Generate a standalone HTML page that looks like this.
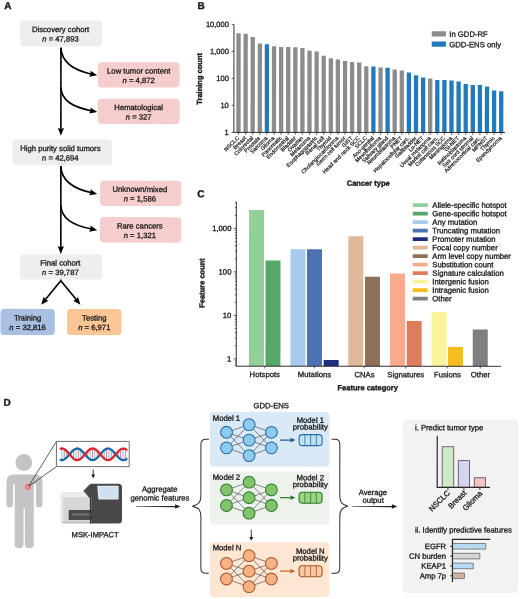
<!DOCTYPE html>
<html lang="en"><head><meta charset="utf-8"><title>Figure 1</title>
<style>
html,body{margin:0;padding:0;background:#fff;}
body{width:520px;height:599px;overflow:hidden;}
svg{display:block;font-family:"Liberation Sans",Arial,sans-serif;fill:#1a1718;text-rendering:geometricPrecision;}
text{stroke:#1a1718;stroke-width:0.3px;}
.pl{font-size:10px;font-weight:bold;stroke-width:0.35px;}
.t{font-size:7.7px;}
.b{font-size:7.5px;font-weight:bold;stroke-width:0.35px;}
.xs{font-size:5.5px;stroke-width:0.2px;}
.m{text-anchor:middle;}
.e{text-anchor:end;}
</style></head><body>
<svg width="520" height="599" viewBox="0 0 520 599">
<rect width="520" height="599" fill="#fff"/>
<g transform="rotate(0.03 260 300)">

<g id="panelA">
<text class="pl" x="4.2" y="9.1">A</text>
<rect x="20" y="20.5" width="82.00" height="26.20" rx="3.8" fill="#eeeeee"/>
<text class="t m" x="60.40" y="32.20">Discovery cohort</text>
<text class="t m" x="60.40" y="41.70"><tspan font-style="italic">n</tspan> = 47,893</text>
<rect x="97.7" y="62.3" width="81.80" height="25.30" rx="3.8" fill="#f6cdcd"/>
<text class="t m" x="138.60" y="73.55">Low tumor content</text>
<text class="t m" x="138.60" y="83.05"><tspan font-style="italic">n</tspan> = 4,872</text>
<rect x="97.7" y="98.8" width="81.80" height="25.40" rx="3.8" fill="#f6cdcd"/>
<text class="t m" x="138.60" y="110.10">Hematological</text>
<text class="t m" x="138.60" y="119.60"><tspan font-style="italic">n</tspan> = 327</text>
<rect x="12.5" y="139.5" width="99.30" height="25.80" rx="3.8" fill="#eeeeee"/>
<text class="t m" x="60.30" y="151.00">High purity solid tumors</text>
<text class="t m" x="60.30" y="160.50"><tspan font-style="italic">n</tspan> = 42,694</text>
<rect x="100" y="180.7" width="81.30" height="25.30" rx="3.8" fill="#f6cdcd"/>
<text class="t m" x="139.80" y="191.95">Unknown/mixed</text>
<text class="t m" x="139.80" y="201.45"><tspan font-style="italic">n</tspan> = 1,586</text>
<rect x="100" y="217.2" width="81.30" height="25.50" rx="3.8" fill="#f6cdcd"/>
<text class="t m" x="139.80" y="228.55">Rare cancers</text>
<text class="t m" x="139.80" y="238.05"><tspan font-style="italic">n</tspan> = 1,321</text>
<rect x="20" y="254.4" width="82.00" height="25.20" rx="3.8" fill="#eeeeee"/>
<text class="t m" x="60.40" y="265.60">Final cohort</text>
<text class="t m" x="60.40" y="275.10"><tspan font-style="italic">n</tspan> = 39,787</text>
<rect x="0.5" y="309" width="54.30" height="26.20" rx="3.8" fill="#aac0e3"/>
<text class="t m" x="27.65" y="320.70">Training</text>
<text class="t m" x="27.65" y="330.20"><tspan font-style="italic">n</tspan> = 32,816</text>
<rect x="67" y="309" width="54.60" height="26.20" rx="3.8" fill="#fbc695"/>
<text class="t m" x="94.30" y="320.70">Testing</text>
<text class="t m" x="94.30" y="330.20"><tspan font-style="italic">n</tspan> = 6,971</text>
<path d="M60.8 47.5V130.8" stroke="#000" stroke-width="1.6" fill="none"/>
<path d="M60.80 135.80L63.90 128.20L60.80 129.00L57.70 128.20Z" fill="#000"/>
<path d="M60.8 166V249" stroke="#000" stroke-width="1.6" fill="none"/>
<path d="M60.80 254.00L63.90 246.40L60.80 247.20L57.70 246.40Z" fill="#000"/>
<path d="M60.8 48C61.4 61,71.8 70.06,91.82 74.26" stroke="#000" stroke-width="1.6" fill="none"/>
<path d="M97.20 75.40L90.41 70.79L90.55 73.99L89.12 76.85Z" fill="#000"/>
<path d="M60.8 87.5C61.4 100.5,71.8 106.86,91.82 111.06" stroke="#000" stroke-width="1.6" fill="none"/>
<path d="M97.20 112.20L90.41 107.59L90.55 110.79L89.12 113.65Z" fill="#000"/>
<path d="M60.8 166.5C61.4 179.5,71.8 188.66,91.82 192.86" stroke="#000" stroke-width="1.6" fill="none"/>
<path d="M97.20 194.00L90.41 189.39L90.55 192.59L89.12 195.45Z" fill="#000"/>
<path d="M60.8 205.5C61.4 218.5,71.8 224.96,91.82 229.16" stroke="#000" stroke-width="1.6" fill="none"/>
<path d="M97.20 230.30L90.41 225.69L90.55 228.89L89.12 231.75Z" fill="#000"/>
<path d="M60.0 280.2h1.6" stroke="#000" stroke-width="1.2"/>
<path d="M60.8 280.8L44.36 300.93" stroke="#000" stroke-width="1.6" fill="none"/>
<path d="M41.20 304.80L48.41 300.87L45.50 299.53L43.61 296.95Z" fill="#000"/>
<path d="M60.8 280.8L77.24 300.93" stroke="#000" stroke-width="1.6" fill="none"/>
<path d="M80.40 304.80L77.99 296.95L76.10 299.53L73.19 300.87Z" fill="#000"/>
</g>
<g id="panelB">
<text class="pl" x="197.3" y="9.1">B</text>
<rect x="236.25" y="33.25" width="4.3" height="99.15" fill="#8c8c8c"/>
<rect x="243.35" y="33.75" width="4.3" height="98.65" fill="#8c8c8c"/>
<rect x="250.45" y="37" width="4.3" height="95.40" fill="#8c8c8c"/>
<rect x="257.55" y="43.5" width="4.3" height="88.90" fill="#8c8c8c"/>
<rect x="264.65" y="44.25" width="4.3" height="88.15" fill="#2279bb"/>
<rect x="271.75" y="46.25" width="4.3" height="86.15" fill="#8c8c8c"/>
<rect x="278.85" y="47" width="4.3" height="85.40" fill="#8c8c8c"/>
<rect x="285.95" y="47" width="4.3" height="85.40" fill="#8c8c8c"/>
<rect x="293.05" y="47.2" width="4.3" height="85.20" fill="#8c8c8c"/>
<rect x="300.15" y="48.1" width="4.3" height="84.30" fill="#8c8c8c"/>
<rect x="307.25" y="50.6" width="4.3" height="81.80" fill="#8c8c8c"/>
<rect x="314.35" y="51.4" width="4.3" height="81.00" fill="#8c8c8c"/>
<rect x="321.45" y="55.75" width="4.3" height="76.65" fill="#8c8c8c"/>
<rect x="328.55" y="58.25" width="4.3" height="74.15" fill="#8c8c8c"/>
<rect x="335.65" y="59.5" width="4.3" height="72.90" fill="#8c8c8c"/>
<rect x="342.75" y="61" width="4.3" height="71.40" fill="#8c8c8c"/>
<rect x="349.85" y="62" width="4.3" height="70.40" fill="#8c8c8c"/>
<rect x="356.95" y="62.5" width="4.3" height="69.90" fill="#8c8c8c"/>
<rect x="364.05" y="66.25" width="4.3" height="66.15" fill="#8c8c8c"/>
<rect x="371.15" y="66.5" width="4.3" height="65.90" fill="#2279bb"/>
<rect x="378.25" y="67.5" width="4.3" height="64.90" fill="#8c8c8c"/>
<rect x="385.35" y="67.75" width="4.3" height="64.65" fill="#2279bb"/>
<rect x="392.45" y="69.5" width="4.3" height="62.90" fill="#8c8c8c"/>
<rect x="399.55" y="70.5" width="4.3" height="61.90" fill="#8c8c8c"/>
<rect x="406.65" y="72.3" width="4.3" height="60.10" fill="#2279bb"/>
<rect x="413.75" y="75.2" width="4.3" height="57.20" fill="#2279bb"/>
<rect x="420.85" y="77.4" width="4.3" height="55.00" fill="#2279bb"/>
<rect x="427.95" y="78.5" width="4.3" height="53.90" fill="#8c8c8c"/>
<rect x="435.05" y="80" width="4.3" height="52.40" fill="#2279bb"/>
<rect x="442.15" y="80" width="4.3" height="52.40" fill="#2279bb"/>
<rect x="449.25" y="80.5" width="4.3" height="51.90" fill="#2279bb"/>
<rect x="456.35" y="81.4" width="4.3" height="51.00" fill="#2279bb"/>
<rect x="463.45" y="83.9" width="4.3" height="48.50" fill="#2279bb"/>
<rect x="470.55" y="84.9" width="4.3" height="47.50" fill="#2279bb"/>
<rect x="477.65" y="84.9" width="4.3" height="47.50" fill="#2279bb"/>
<rect x="484.75" y="86.5" width="4.3" height="45.90" fill="#2279bb"/>
<rect x="491.85" y="90.4" width="4.3" height="42.00" fill="#2279bb"/>
<rect x="498.95" y="91.1" width="4.3" height="41.30" fill="#2279bb"/>
<path d="M233.8 24.5V132.4H505" stroke="#2a2627" stroke-width="0.95" fill="none"/>
<path d="M231.60000000000002 132.40H233.8M231.60000000000002 105.40H233.8M231.60000000000002 78.40H233.8M231.60000000000002 51.40H233.8M231.60000000000002 24.40H233.8M238.40 132.4v2.3M245.50 132.4v2.3M252.60 132.4v2.3M259.70 132.4v2.3M266.80 132.4v2.3M273.90 132.4v2.3M281.00 132.4v2.3M288.10 132.4v2.3M295.20 132.4v2.3M302.30 132.4v2.3M309.40 132.4v2.3M316.50 132.4v2.3M323.60 132.4v2.3M330.70 132.4v2.3M337.80 132.4v2.3M344.90 132.4v2.3M352.00 132.4v2.3M359.10 132.4v2.3M366.20 132.4v2.3M373.30 132.4v2.3M380.40 132.4v2.3M387.50 132.4v2.3M394.60 132.4v2.3M401.70 132.4v2.3M408.80 132.4v2.3M415.90 132.4v2.3M423.00 132.4v2.3M430.10 132.4v2.3M437.20 132.4v2.3M444.30 132.4v2.3M451.40 132.4v2.3M458.50 132.4v2.3M465.60 132.4v2.3M472.70 132.4v2.3M479.80 132.4v2.3M486.90 132.4v2.3M494.00 132.4v2.3M501.10 132.4v2.3" stroke="#2a2627" stroke-width="0.75" fill="none"/>
<text class="t e" x="228.7" y="135.10" style="font-size:7.5px">1</text>
<text class="t e" x="228.7" y="108.10" style="font-size:7.5px">10</text>
<text class="t e" x="228.7" y="81.10" style="font-size:7.5px">100</text>
<text class="t e" x="228.7" y="54.10" style="font-size:7.5px">1,000</text>
<text class="t e" x="228.7" y="27.10" style="font-size:7.5px">10,000</text>
<text class="xs e" transform="translate(239.40 138.5) rotate(-45)">NSCLC</text>
<text class="xs e" transform="translate(246.50 138.5) rotate(-45)">Breast</text>
<text class="xs e" transform="translate(253.60 138.5) rotate(-45)">Colorectal</text>
<text class="xs e" transform="translate(260.70 138.5) rotate(-45)">Prostate</text>
<text class="xs e" transform="translate(267.80 138.5) rotate(-45)">Sarcoma</text>
<text class="xs e" transform="translate(274.90 138.5) rotate(-45)">Glioma</text>
<text class="xs e" transform="translate(282.00 138.5) rotate(-45)">Pancreatic</text>
<text class="xs e" transform="translate(289.10 138.5) rotate(-45)">Endometrial</text>
<text class="xs e" transform="translate(296.20 138.5) rotate(-45)">Bladder</text>
<text class="xs e" transform="translate(303.30 138.5) rotate(-45)">Ovarian</text>
<text class="xs e" transform="translate(310.40 138.5) rotate(-45)">Melanoma</text>
<text class="xs e" transform="translate(317.50 138.5) rotate(-45)">Esophagogastric</text>
<text class="xs e" transform="translate(324.60 138.5) rotate(-45)">Renal cell</text>
<text class="xs e" transform="translate(331.70 138.5) rotate(-45)">Thyroid</text>
<text class="xs e" transform="translate(338.80 138.5) rotate(-45)">Cholangiocarcinoma</text>
<text class="xs e" transform="translate(345.90 138.5) rotate(-45)">Germ cell tumor</text>
<text class="xs e" transform="translate(353.00 138.5) rotate(-45)">GIST</text>
<text class="xs e" transform="translate(360.10 138.5) rotate(-45)">Head and neck SCC</text>
<text class="xs e" transform="translate(367.20 138.5) rotate(-45)">SCLC</text>
<text class="xs e" transform="translate(374.30 138.5) rotate(-45)">Ano-genital</text>
<text class="xs e" transform="translate(381.40 138.5) rotate(-45)">Mesothelioma</text>
<text class="xs e" transform="translate(388.50 138.5) rotate(-45)">Salivary gland</text>
<text class="xs e" transform="translate(395.60 138.5) rotate(-45)">Neuroblastoma</text>
<text class="xs e" transform="translate(402.70 138.5) rotate(-45)">PNET</text>
<text class="xs e" transform="translate(409.80 138.5) rotate(-45)">Hepatocellular carc.</text>
<text class="xs e" transform="translate(416.90 138.5) rotate(-45)">Gallbladder</text>
<text class="xs e" transform="translate(424.00 138.5) rotate(-45)">Lu-NET</text>
<text class="xs e" transform="translate(431.10 138.5) rotate(-45)">Uveal melanoma</text>
<text class="xs e" transform="translate(438.20 138.5) rotate(-45)">Merkel cell carc.</text>
<text class="xs e" transform="translate(445.30 138.5) rotate(-45)">Cutaneous SCC</text>
<text class="xs e" transform="translate(452.40 138.5) rotate(-45)">Meningioma</text>
<text class="xs e" transform="translate(459.50 138.5) rotate(-45)">GI-NET</text>
<text class="xs e" transform="translate(466.60 138.5) rotate(-45)">Retinoblastoma</text>
<text class="xs e" transform="translate(473.70 138.5) rotate(-45)">Sex cord stromal</text>
<text class="xs e" transform="translate(480.80 138.5) rotate(-45)">Adrenocortical carc.</text>
<text class="xs e" transform="translate(487.90 138.5) rotate(-45)">MPNST</text>
<text class="xs e" transform="translate(495.00 138.5) rotate(-45)">Thymic</text>
<text class="xs e" transform="translate(502.10 138.5) rotate(-45)">Ependymoma</text>
<text class="b m" transform="translate(201.8 78.9) rotate(-90)">Training count</text>
<text class="b m" x="368.2" y="185.6">Cancer type</text>
<rect x="431.6" y="31.1" width="14.2" height="5.4" fill="#8c8c8c"/>
<rect x="431.6" y="41.3" width="14.2" height="5.4" fill="#2279bb"/>
<text class="t" x="449.2" y="36.7">In GDD-RF</text>
<text class="t" x="449.2" y="47.2">GDD-ENS only</text>
</g>
<g id="panelC">
<text class="pl" x="197.3" y="197.2">C</text>
<rect x="249" y="210" width="15.00" height="156.20" fill="#93d098"/>
<rect x="265.5" y="260.5" width="15.00" height="105.70" fill="#55a868"/>
<rect x="290.5" y="249.3" width="15.00" height="116.90" fill="#a9c9ed"/>
<rect x="307" y="249.3" width="15.00" height="116.90" fill="#4c72b5"/>
<rect x="323.7" y="359.9" width="15.00" height="6.30" fill="#1f2d7d"/>
<rect x="348.3" y="236.3" width="15.00" height="129.90" fill="#dfb999"/>
<rect x="365" y="276.8" width="15.00" height="89.40" fill="#8c7058"/>
<rect x="390" y="273.5" width="15.00" height="92.70" fill="#f8ab8c"/>
<rect x="406.7" y="320.8" width="15.00" height="45.40" fill="#e07c5b"/>
<rect x="431.6" y="311.8" width="15.00" height="54.40" fill="#fbf39c"/>
<rect x="448" y="347" width="15.00" height="19.20" fill="#f5be1c"/>
<rect x="472.8" y="329.4" width="15.00" height="36.80" fill="#7f7f7f"/>
<path d="M236.3 202V366.2H501" stroke="#2a2627" stroke-width="0.95" fill="none"/>
<path d="M234.9 365.64H236.3M234.9 363.12H236.3M234.9 360.89H236.3M233.70000000000002 358.90H236.3M234.9 345.81H236.3M234.9 338.15H236.3M234.9 332.71H236.3M234.9 328.49H236.3M234.9 325.05H236.3M234.9 322.14H236.3M234.9 319.62H236.3M234.9 317.39H236.3M233.70000000000002 315.40H236.3M234.9 302.31H236.3M234.9 294.65H236.3M234.9 289.21H236.3M234.9 284.99H236.3M234.9 281.55H236.3M234.9 278.64H236.3M234.9 276.12H236.3M234.9 273.89H236.3M233.70000000000002 271.90H236.3M234.9 258.81H236.3M234.9 251.15H236.3M234.9 245.71H236.3M234.9 241.49H236.3M234.9 238.05H236.3M234.9 235.14H236.3M234.9 232.62H236.3M234.9 230.39H236.3M233.70000000000002 228.40H236.3M234.9 215.31H236.3M234.9 207.65H236.3M234.9 202.21H236.3M264.8 366.2v2.2M314.5 366.2v2.2M364.2 366.2v2.2M405.8 366.2v2.2M447.3 366.2v2.2M480.3 366.2v2.2" stroke="#2a2627" stroke-width="0.75" fill="none"/>
<text class="t e" x="231.4" y="361.60">1</text>
<text class="t e" x="231.4" y="318.10">10</text>
<text class="t e" x="231.4" y="274.60">100</text>
<text class="t e" x="231.4" y="231.10">1,000</text>
<text class="t m" x="264.8" y="377.1">Hotspots</text>
<text class="t m" x="314.5" y="377.1">Mutations</text>
<text class="t m" x="364.6" y="377.1">CNAs</text>
<text class="t m" x="405.8" y="377.1">Signatures</text>
<text class="t m" x="447.5" y="377.1">Fusions</text>
<text class="t m" x="480.5" y="377.1">Other</text>
<text class="b m" transform="translate(204.5 283) rotate(-90)">Feature count</text>
<text class="b m" x="367.8" y="390.3">Feature category</text>
<rect x="412.7" y="203.10" width="15" height="3.8" fill="#93d098"/>
<text class="t" x="432.3" y="207.70">Allele-specific hotspot</text>
<rect x="412.7" y="211.60" width="15" height="3.8" fill="#55a868"/>
<text class="t" x="432.3" y="216.20">Gene-specific hotspot</text>
<rect x="412.7" y="220.10" width="15" height="3.8" fill="#a9c9ed"/>
<text class="t" x="432.3" y="224.70">Any mutation</text>
<rect x="412.7" y="228.60" width="15" height="3.8" fill="#4c72b5"/>
<text class="t" x="432.3" y="233.20">Truncating mutation</text>
<rect x="412.7" y="237.10" width="15" height="3.8" fill="#1f2d7d"/>
<text class="t" x="432.3" y="241.70">Promoter mutation</text>
<rect x="412.7" y="245.60" width="15" height="3.8" fill="#dfb999"/>
<text class="t" x="432.3" y="250.20">Focal copy number</text>
<rect x="412.7" y="254.10" width="15" height="3.8" fill="#8c7058"/>
<text class="t" x="432.3" y="258.70">Arm level copy number</text>
<rect x="412.7" y="262.60" width="15" height="3.8" fill="#f8ab8c"/>
<text class="t" x="432.3" y="267.20">Substitution count</text>
<rect x="412.7" y="271.10" width="15" height="3.8" fill="#e07c5b"/>
<text class="t" x="432.3" y="275.70">Signature calculation</text>
<rect x="412.7" y="279.60" width="15" height="3.8" fill="#fbf39c"/>
<text class="t" x="432.3" y="284.20">Intergenic fusion</text>
<rect x="412.7" y="288.10" width="15" height="3.8" fill="#f5be1c"/>
<text class="t" x="432.3" y="292.70">Intragenic fusion</text>
<rect x="412.7" y="296.60" width="15" height="3.8" fill="#7f7f7f"/>
<text class="t" x="432.3" y="301.20">Other</text>
</g>
<g id="panelD">
<text class="pl" x="3.6" y="405.9">D</text>
<circle cx="23.9" cy="462.6" r="8.4" fill="#c4c4c4"/>
<path d="M13.6 474.6H35.6Q42.6 474.6 42.6 481.6V504.3Q42.6 507.6 39.35 507.6Q36.1 507.6 36.1 504.3V484.3H33.9V544.4Q33.9 548.3 29.4 548.3Q25 548.3 25 544.4V508.5H23.7V544.4Q23.7 548.3 19.2 548.3Q14.8 548.3 14.8 544.4V484.3H13.1V504.3Q13.1 507.6 9.85 507.6Q6.6 507.6 6.6 504.3V481.6Q6.6 474.6 13.6 474.6Z" fill="#c4c4c4"/>
<circle cx="28" cy="487" r="3.7" fill="#eeb0b5"/>
<circle cx="28" cy="487" r="2.5" fill="#ee9ca4" stroke="#db5966" stroke-width="0.9"/>
<path d="M56.5 441.5L28.6 486.6L56.5 466.7" stroke="#333" stroke-width="0.8" fill="none" stroke-linejoin="round"/>
<rect x="56.5" y="441.5" width="72.8" height="25.2" fill="#fff" stroke="#4a4a4a" stroke-width="0.8"/>
<path d="M62.00 449.20V459.60M66.70 451.77V457.03M71.40 452.92V455.88M76.10 449.37V459.43M80.80 450.62V458.18M90.20 449.94V458.86M94.90 449.77V459.03M104.30 450.86V457.94M109.00 449.30V459.50M113.70 452.59V456.21M118.40 452.07V456.73M123.10 449.22V459.58" stroke="#7dc0e6" stroke-width="1" fill="none"/>
<path d="M64.35 449.91V458.89M73.75 450.66V458.14M78.45 449.36V459.44M83.15 452.86V455.94M87.85 451.81V456.99M92.55 449.20V459.60M97.25 451.52V457.28M101.95 453.20V455.60M106.65 449.45V459.35M111.35 450.43V458.37M120.75 450.09V458.71M125.45 449.65V459.15" stroke="#ea7f82" stroke-width="1" fill="none"/>
<path d="M60.80 460.05L61.13 460.13L61.46 460.18L61.79 460.20L62.12 460.19L62.45 460.16L62.77 460.11L63.10 460.03L63.43 459.92L63.76 459.79L64.09 459.63L64.42 459.45L64.75 459.25L65.08 459.02L65.41 458.78L65.73 458.51L66.06 458.23L66.39 457.93L66.72 457.61L67.05 457.28L67.38 456.94L67.71 456.58L68.04 456.22L68.37 455.84L68.70 455.46L69.02 455.08L69.35 454.69L69.68 454.30L70.01 453.91L70.34 453.53L70.67 453.14L71.00 452.77L71.33 452.40L71.66 452.04L71.99 451.69L72.31 451.35L72.64 451.03L72.97 450.72L73.30 450.42L73.63 450.15L73.96 449.90L74.29 449.66L74.62 449.45L74.95 449.26L75.28 449.09L75.60 448.94L75.93 448.82L76.26 448.73L76.59 448.66L76.92 448.62L77.25 448.60L77.58 448.61L77.91 448.64L78.24 448.71L78.57 448.79L78.89 448.90L79.22 449.04L79.55 449.20L79.88 449.39L80.21 449.59L80.54 449.82L80.87 450.07L81.20 450.34L81.53 450.63L81.86 450.93L82.19 451.25L82.51 451.58L82.84 451.93L83.17 452.29L83.50 452.65L83.83 453.03L84.16 453.41L84.49 453.80L84.82 454.18L85.15 454.57L85.47 454.96L85.80 455.35L86.13 455.73L86.46 456.10L86.79 456.47L87.12 456.83L87.45 457.18L87.78 457.51L88.11 457.83L88.44 458.14L88.77 458.43L89.09 458.70L89.42 458.95L89.75 459.18L90.08 459.39L90.41 459.58L90.74 459.74L91.07 459.88L91.40 460.00L91.73 460.09L92.05 460.15L92.38 460.19L92.71 460.20L93.04 460.19L93.37 460.15L93.70 460.08L94.03 459.99L94.36 459.87L94.69 459.73L95.02 459.56L95.34 459.38L95.67 459.16L96.00 458.93L96.33 458.68L96.66 458.41L96.99 458.12L97.32 457.81L97.65 457.49L97.98 457.15L98.31 456.80L98.63 456.44L98.96 456.07L99.29 455.70L99.62 455.32L99.95 454.93L100.28 454.54L100.61 454.15L100.94 453.76L101.27 453.38L101.60 453.00L101.92 452.62L102.25 452.26L102.58 451.90L102.91 451.56L103.24 451.22L103.57 450.91L103.90 450.60L104.23 450.32L104.56 450.05L104.89 449.80L105.22 449.58L105.54 449.37L105.87 449.19L106.20 449.03L106.53 448.89L106.86 448.78L107.19 448.70L107.52 448.64L107.85 448.61L108.18 448.60L108.50 448.62L108.83 448.66L109.16 448.74L109.49 448.83L109.82 448.95L110.15 449.10L110.48 449.27L110.81 449.46L111.14 449.68L111.47 449.91L111.79 450.17L112.12 450.45L112.45 450.74L112.78 451.05L113.11 451.38L113.44 451.71L113.77 452.07L114.10 452.43L114.43 452.80L114.76 453.17L115.08 453.56L115.41 453.94L115.74 454.33L116.07 454.72L116.40 455.11L116.73 455.49L117.06 455.87L117.39 456.25L117.72 456.61L118.05 456.97L118.38 457.31L118.70 457.64L119.03 457.95L119.36 458.25L119.69 458.54L120.02 458.80L120.35 459.04L120.68 459.27L121.01 459.47L121.34 459.64L121.66 459.80L121.99 459.93L122.32 460.03L122.65 460.11L122.98 460.17L123.31 460.20L123.64 460.20L123.97 460.17L124.30 460.12L124.63 460.05L124.95 459.95L125.28 459.82L125.61 459.67L125.94 459.50L126.27 459.30L126.60 459.08" stroke="#1c66ab" stroke-width="2.3" fill="none" stroke-linecap="round"/>
<path d="M60.80 448.75L61.13 448.67L61.46 448.62L61.79 448.60L62.12 448.61L62.45 448.64L62.77 448.69L63.10 448.77L63.43 448.88L63.76 449.01L64.09 449.17L64.42 449.35L64.75 449.55L65.08 449.78L65.41 450.02L65.73 450.29L66.06 450.57L66.39 450.87L66.72 451.19L67.05 451.52L67.38 451.86L67.71 452.22L68.04 452.58L68.37 452.96L68.70 453.34L69.02 453.72L69.35 454.11L69.68 454.50L70.01 454.89L70.34 455.27L70.67 455.66L71.00 456.03L71.33 456.40L71.66 456.76L71.99 457.11L72.31 457.45L72.64 457.77L72.97 458.08L73.30 458.38L73.63 458.65L73.96 458.90L74.29 459.14L74.62 459.35L74.95 459.54L75.28 459.71L75.60 459.86L75.93 459.98L76.26 460.07L76.59 460.14L76.92 460.18L77.25 460.20L77.58 460.19L77.91 460.16L78.24 460.09L78.57 460.01L78.89 459.90L79.22 459.76L79.55 459.60L79.88 459.41L80.21 459.21L80.54 458.98L80.87 458.73L81.20 458.46L81.53 458.17L81.86 457.87L82.19 457.55L82.51 457.22L82.84 456.87L83.17 456.51L83.50 456.15L83.83 455.77L84.16 455.39L84.49 455.00L84.82 454.62L85.15 454.23L85.47 453.84L85.80 453.45L86.13 453.07L86.46 452.70L86.79 452.33L87.12 451.97L87.45 451.62L87.78 451.29L88.11 450.97L88.44 450.66L88.77 450.37L89.09 450.10L89.42 449.85L89.75 449.62L90.08 449.41L90.41 449.22L90.74 449.06L91.07 448.92L91.40 448.80L91.73 448.71L92.05 448.65L92.38 448.61L92.71 448.60L93.04 448.61L93.37 448.65L93.70 448.72L94.03 448.81L94.36 448.93L94.69 449.07L95.02 449.24L95.34 449.42L95.67 449.64L96.00 449.87L96.33 450.12L96.66 450.39L96.99 450.68L97.32 450.99L97.65 451.31L97.98 451.65L98.31 452.00L98.63 452.36L98.96 452.73L99.29 453.10L99.62 453.48L99.95 453.87L100.28 454.26L100.61 454.65L100.94 455.04L101.27 455.42L101.60 455.80L101.92 456.18L102.25 456.54L102.58 456.90L102.91 457.24L103.24 457.58L103.57 457.89L103.90 458.20L104.23 458.48L104.56 458.75L104.89 459.00L105.22 459.22L105.54 459.43L105.87 459.61L106.20 459.77L106.53 459.91L106.86 460.02L107.19 460.10L107.52 460.16L107.85 460.19L108.18 460.20L108.50 460.18L108.83 460.14L109.16 460.06L109.49 459.97L109.82 459.85L110.15 459.70L110.48 459.53L110.81 459.34L111.14 459.12L111.47 458.89L111.79 458.63L112.12 458.35L112.45 458.06L112.78 457.75L113.11 457.42L113.44 457.09L113.77 456.73L114.10 456.37L114.43 456.00L114.76 455.63L115.08 455.24L115.41 454.86L115.74 454.47L116.07 454.08L116.40 453.69L116.73 453.31L117.06 452.93L117.39 452.55L117.72 452.19L118.05 451.83L118.38 451.49L118.70 451.16L119.03 450.85L119.36 450.55L119.69 450.26L120.02 450.00L120.35 449.76L120.68 449.53L121.01 449.33L121.34 449.16L121.66 449.00L121.99 448.87L122.32 448.77L122.65 448.69L122.98 448.63L123.31 448.60L123.64 448.60L123.97 448.63L124.30 448.68L124.63 448.75L124.95 448.85L125.28 448.98L125.61 449.13L125.94 449.30L126.27 449.50L126.60 449.72" stroke="#d8232c" stroke-width="2.3" fill="none" stroke-linecap="round"/>
<path d="M93.3 469.4V475.09999999999997" stroke="#231f20" stroke-width="0.9" fill="none"/>
<path d="M93.3 478.4L91.3 474.59999999999997L95.3 474.59999999999997Z" fill="#231f20"/>
<path d="M61 496Q61 492.4 64.6 492.4H93V523.2H63.6Q61 523.2 61 520.4Z" fill="#d6d6d6"/>
<path d="M61.6 494.6Q62.4 492.4 64.6 492.4H92.5L89 497.4H62Z" fill="#ececec"/>
<path d="M61 497.4H63.4V522.8Q61 522.4 61 520.4Z" fill="#e8e8e8"/>
<path d="M61.5 522.2H93V523.6H63.5Q62 523.4 61.5 522.2Z" fill="#bdbdbd"/>
<path d="M68.8 510.2H93V520H68.8Z" fill="#4a4a4c"/>
<path d="M72 513.4H93V515.8H72Z" fill="#6a6a6c"/>
<path d="M91.2 483.8H118.4Q122.1 483.8 122.1 487.4V520Q122.1 523.6 118.4 523.6H91.6V497.4L83.4 491L88.6 485.6Q90 483.8 91.2 483.8Z" fill="#48484a"/>
<path d="M83.4 491L91.6 497.4V523.6H90V498.4Z" fill="#38383a"/>
<path d="M97.3 485.9H118.2Q118.7 485.9 118.7 486.5V498.8Q118.7 499.5 118 499.5H98.6Z" fill="#e9eff3"/>
<path d="M98.5 486.9H117.7V498.5H99.5Z" fill="#cfe1ee"/>
<text class="t m" x="95.3" y="537.4" style="font-size:7.6px">MSK-IMPACT</text>
<text class="t m" x="159.8" y="491.7">Aggregate</text>
<text class="t m" x="160" y="500.5">genomic features</text>
<path d="M136 506.35L176 505.95V507.25L136 506.85Z" fill="#231f20"/>
<path d="M180.6 506.6L175.2 504.3V508.9Z" fill="#231f20"/>
<path d="M209 439.2H206Q201 439.2 201 444.2V495.20000000000005C201 501.70000000000005,199.5 504.6,192.4 506.20000000000005C199.5 507.80000000000007,201 510.70000000000005,201 517.2V568.2Q201 573.2 206 573.2H209" stroke="#2f2b2c" stroke-width="1" fill="none"/>
<path d="M331.6 439.2H334.9Q339.9 439.2 339.9 444.2V495.20000000000005C339.9 501.70000000000005,341.4 504.6,348 506.20000000000005C341.4 507.80000000000007,339.9 510.70000000000005,339.9 517.2V568.2Q339.9 573.2 334.9 573.2H331.6" stroke="#2f2b2c" stroke-width="1" fill="none"/>
<text class="t m" x="271.3" y="408.3">GDD-ENS</text>
<rect x="210.1" y="411.9" width="119.4" height="54.70" rx="3.5" fill="#d9eaf6"/>
<text class="t" x="212.8" y="420.8">Model 1</text>
<path d="M226.6 432.30L249.2 424.60M226.6 432.30L249.2 440.10M226.6 432.30L249.2 455.60M226.6 447.90L249.2 424.60M226.6 447.90L249.2 440.10M226.6 447.90L249.2 455.60M249.2 424.60L271.5 432.30M249.2 424.60L271.5 447.90M249.2 440.10L271.5 432.30M249.2 440.10L271.5 447.90M249.2 455.60L271.5 432.30M249.2 455.60L271.5 447.90" stroke="#3c3c3c" stroke-width="0.6" fill="none"/>
<circle cx="226.6" cy="432.30" r="5.9" fill="#8ccbef" stroke="#2a6ca3" stroke-width="1.05"/>
<circle cx="226.6" cy="447.90" r="5.9" fill="#8ccbef" stroke="#2a6ca3" stroke-width="1.05"/>
<circle cx="249.2" cy="424.60" r="5.9" fill="#8ccbef" stroke="#2a6ca3" stroke-width="1.05"/>
<circle cx="249.2" cy="440.10" r="5.9" fill="#8ccbef" stroke="#2a6ca3" stroke-width="1.05"/>
<circle cx="249.2" cy="455.60" r="5.9" fill="#8ccbef" stroke="#2a6ca3" stroke-width="1.05"/>
<circle cx="271.5" cy="432.30" r="5.9" fill="#8ccbef" stroke="#2a6ca3" stroke-width="1.05"/>
<circle cx="271.5" cy="447.90" r="5.9" fill="#8ccbef" stroke="#2a6ca3" stroke-width="1.05"/>
<path d="M280.2 440.1H291.09999999999997" stroke="#27598c" stroke-width="1.3" fill="none"/>
<path d="M295.4 440.1L290.59999999999997 437.70000000000005L290.59999999999997 442.5Z" fill="#27598c"/>
<rect x="299.2" y="434.60" width="23" height="11" rx="3.2" fill="#bfe2f4" stroke="#2a6ca3" stroke-width="1.1"/>
<path d="M305 434.60v11M310.7 434.60v11M316.4 434.60v11" stroke="#2a6ca3" stroke-width="0.8" fill="none"/>
<text class="t m" x="310.4" y="422.70">Model 1</text>
<text class="t m" x="310.4" y="429.50">probability</text>
<rect x="210.1" y="471.4" width="119.4" height="53.20" rx="3.5" fill="#eef2ec"/>
<text class="t" x="212.8" y="479.8">Model 2</text>
<path d="M226.6 489.90L249.2 482.20M226.6 489.90L249.2 497.70M226.6 489.90L249.2 513.20M226.6 505.50L249.2 482.20M226.6 505.50L249.2 497.70M226.6 505.50L249.2 513.20M249.2 482.20L271.5 489.90M249.2 482.20L271.5 505.50M249.2 497.70L271.5 489.90M249.2 497.70L271.5 505.50M249.2 513.20L271.5 489.90M249.2 513.20L271.5 505.50" stroke="#3c3c3c" stroke-width="0.6" fill="none"/>
<circle cx="226.6" cy="489.90" r="5.9" fill="#82c46a" stroke="#2e7b31" stroke-width="1.05"/>
<circle cx="226.6" cy="505.50" r="5.9" fill="#82c46a" stroke="#2e7b31" stroke-width="1.05"/>
<circle cx="249.2" cy="482.20" r="5.9" fill="#82c46a" stroke="#2e7b31" stroke-width="1.05"/>
<circle cx="249.2" cy="497.70" r="5.9" fill="#82c46a" stroke="#2e7b31" stroke-width="1.05"/>
<circle cx="249.2" cy="513.20" r="5.9" fill="#82c46a" stroke="#2e7b31" stroke-width="1.05"/>
<circle cx="271.5" cy="489.90" r="5.9" fill="#82c46a" stroke="#2e7b31" stroke-width="1.05"/>
<circle cx="271.5" cy="505.50" r="5.9" fill="#82c46a" stroke="#2e7b31" stroke-width="1.05"/>
<path d="M280.2 497.7H291.09999999999997" stroke="#2e7b31" stroke-width="1.3" fill="none"/>
<path d="M295.4 497.7L290.59999999999997 495.3L290.59999999999997 500.09999999999997Z" fill="#2e7b31"/>
<rect x="299.2" y="492.20" width="23" height="11" rx="3.2" fill="#9bd383" stroke="#2e7b31" stroke-width="1.1"/>
<path d="M305 492.20v11M310.7 492.20v11M316.4 492.20v11" stroke="#2e7b31" stroke-width="0.8" fill="none"/>
<text class="t m" x="310.4" y="480.30">Model 2</text>
<text class="t m" x="310.4" y="487.10">probability</text>
<rect x="210.1" y="542.2" width="119.4" height="54.80" rx="3.5" fill="#fde6d2"/>
<text class="t" x="212.8" y="550.2">Model N</text>
<path d="M226.6 563.40L249.2 555.70M226.6 563.40L249.2 571.20M226.6 563.40L249.2 586.70M226.6 579.00L249.2 555.70M226.6 579.00L249.2 571.20M226.6 579.00L249.2 586.70M249.2 555.70L271.5 563.40M249.2 555.70L271.5 579.00M249.2 571.20L271.5 563.40M249.2 571.20L271.5 579.00M249.2 586.70L271.5 563.40M249.2 586.70L271.5 579.00" stroke="#3c3c3c" stroke-width="0.6" fill="none"/>
<circle cx="226.6" cy="563.40" r="5.9" fill="#f6b285" stroke="#a9562a" stroke-width="1.05"/>
<circle cx="226.6" cy="579.00" r="5.9" fill="#f6b285" stroke="#a9562a" stroke-width="1.05"/>
<circle cx="249.2" cy="555.70" r="5.9" fill="#f6b285" stroke="#a9562a" stroke-width="1.05"/>
<circle cx="249.2" cy="571.20" r="5.9" fill="#f6b285" stroke="#a9562a" stroke-width="1.05"/>
<circle cx="249.2" cy="586.70" r="5.9" fill="#f6b285" stroke="#a9562a" stroke-width="1.05"/>
<circle cx="271.5" cy="563.40" r="5.9" fill="#f6b285" stroke="#a9562a" stroke-width="1.05"/>
<circle cx="271.5" cy="579.00" r="5.9" fill="#f6b285" stroke="#a9562a" stroke-width="1.05"/>
<path d="M280.2 571.2H291.09999999999997" stroke="#c8692c" stroke-width="1.3" fill="none"/>
<path d="M295.4 571.2L290.59999999999997 568.8000000000001L290.59999999999997 573.6Z" fill="#c8692c"/>
<rect x="299.2" y="565.70" width="23" height="11" rx="3.2" fill="#fbc9a4" stroke="#a9562a" stroke-width="1.1"/>
<path d="M305 565.70v11M310.7 565.70v11M316.4 565.70v11" stroke="#a9562a" stroke-width="0.8" fill="none"/>
<text class="t m" x="310.4" y="553.80">Model N</text>
<text class="t m" x="310.4" y="560.60">probability</text>
<path d="M251.4 529.8V537.5" stroke="#1d1d24" stroke-width="0.9" fill="none"/>
<path d="M251.4 540.8L249.4 537.0L253.4 537.0Z" fill="#1d1d24"/>
<text class="t m" x="373" y="495">Average</text>
<text class="t m" x="373.2" y="502.6">output</text>
<path d="M352.3 506.25L393 505.85V507.15L352.3 506.75Z" fill="#231f20"/>
<path d="M397.4 506.5L392 504.2V508.8Z" fill="#231f20"/>
<rect x="402.5" y="419.6" width="115.8" height="173.2" rx="4.5" fill="#f2f2f2"/>
<text class="t" x="415" y="430.2" style="font-size:7.7px">i. Predict tumor type</text>
<rect x="442.3" y="446.6" width="11.50" height="40.70" fill="#cde8c6" stroke="#5a5a5a" stroke-width="0.9"/>
<rect x="458.4" y="460.4" width="11.20" height="26.90" fill="#d6d3ec" stroke="#5a5a5a" stroke-width="0.9"/>
<rect x="474.5" y="477.6" width="11.10" height="9.70" fill="#f5c4c4" stroke="#5a5a5a" stroke-width="0.9"/>
<path d="M437.3 435.6V487.3H490" stroke="#2a2627" stroke-width="1.2" fill="none"/>
<path d="M448 487.3v2.6M464 487.3v2.6M480 487.3v2.6" stroke="#2a2627" stroke-width="0.9" fill="none"/>
<text class="t e" transform="translate(450.6 493.4) rotate(-45)">NSCLC</text>
<text class="t e" transform="translate(467 493.4) rotate(-45)">Breast</text>
<text class="t e" transform="translate(483 493.8) rotate(-45)">Glioma</text>
<text class="t" x="415" y="532.4" style="font-size:7.65px">ii. Identify predictive features</text>
<rect x="452.6" y="543.40" width="33.30" height="5.6" fill="#b7d9f1" stroke="#6a6a6a" stroke-width="0.8"/>
<path d="M450.2 546.2H452.6" stroke="#2a2627" stroke-width="0.9"/>
<text class="t e" x="446.3" y="548.80">EGFR</text>
<rect x="452.6" y="553.20" width="27.40" height="5.6" fill="#d6d6d6" stroke="#6a6a6a" stroke-width="0.8"/>
<path d="M450.2 556H452.6" stroke="#2a2627" stroke-width="0.9"/>
<text class="t e" x="446.3" y="558.60">CN burden</text>
<rect x="452.6" y="563.00" width="20.80" height="5.6" fill="#b7d9f1" stroke="#6a6a6a" stroke-width="0.8"/>
<path d="M450.2 565.8H452.6" stroke="#2a2627" stroke-width="0.9"/>
<text class="t e" x="446.3" y="568.40">KEAP1</text>
<rect x="452.6" y="572.90" width="12.00" height="5.6" fill="#cdb2a3" stroke="#6a6a6a" stroke-width="0.8"/>
<path d="M450.2 575.7H452.6" stroke="#2a2627" stroke-width="0.9"/>
<text class="t e" x="446.3" y="578.30">Amp 7p</text>
<path d="M452.6 582V539.2H490.5" stroke="#2a2627" stroke-width="1.2" fill="none"/>
</g>
</g>
</svg></body></html>
